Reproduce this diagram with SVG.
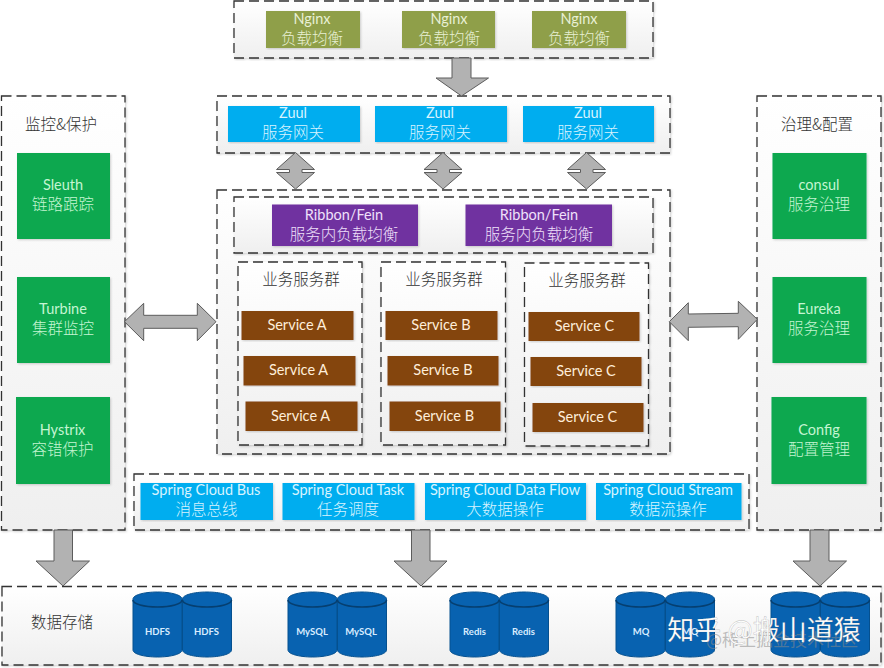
<svg xmlns="http://www.w3.org/2000/svg" width="884" height="668" viewBox="0 0 884 668">
<style>
text{text-anchor:middle;font-family:"Lato","Noto Sans CJK SC",sans-serif}
.lat{font-size:14.5px}
.cjk{font-size:15.5px;font-family:"Noto Sans CJK SC",sans-serif;font-weight:300}
.ttl{font-size:15.5px;font-family:"Noto Sans CJK SC",sans-serif;font-weight:300;fill:#333}
.con{fill:url(#pan);stroke:#333;stroke-width:1.3;stroke-dasharray:10 5;filter:url(#sh)}
.box{filter:url(#sh)}
.ng{fill:#8f9f4a}.ngt{fill:#e8f0d4}
.zu{fill:#00adef}.zut{fill:#d8f4ff}
.gr{fill:#0aa84f}.grt{fill:#c4f5d2}
.pu{fill:#7030a0}.put{fill:#efe0fa}
.br{fill:#84450f}.brt{fill:#ffeeda}
.db{font-size:9.500px;font-weight:700;fill:#d8ecff}
.arr{fill:#b2b2b2;stroke:#5c5c5c;stroke-width:1}
</style>
<defs>
<linearGradient id="pan" x1="0" y1="0" x2="0" y2="1"><stop offset="0" stop-color="#fff"/><stop offset="1" stop-color="#efefef"/></linearGradient>
<filter id="sh" x="-5%" y="-5%" width="110%" height="110%"><feDropShadow dx="1" dy="1" stdDeviation="1.2" flood-color="#000" flood-opacity=".18"/></filter>
<g id="cyl">
<path d="M0 7C0 3 11 0 24.500 0S49 3 49 7V58C49 62 38 65 24.500 65S0 62 0 58Z" fill="#0862b0" stroke="#05508f" stroke-width="1"/>
<path d="M0 8C0 12 11 15 24.500 15S49 12 49 8" fill="none" stroke="#063f70" stroke-width="1.600"/>
</g>
</defs>
<rect width="884" height="668" fill="#fff"/>

<g id="nginx-layer"><rect class="con" x="234" y="1" width="419" height="57"/></g>
<g id="nginx-1"><rect class="box ng" x="266" y="11" width="94" height="37"/><text class="lat ngt" x="312" y="24">Nginx</text><text class="cjk ngt" x="312" y="44">负载均衡</text></g>
<g id="nginx-2"><rect class="box ng" x="402" y="11" width="93" height="37"/><text class="lat ngt" x="449" y="24">Nginx</text><text class="cjk ngt" x="449" y="44">负载均衡</text></g>
<g id="nginx-3"><rect class="box ng" x="532" y="11" width="94" height="37"/><text class="lat ngt" x="579" y="24">Nginx</text><text class="cjk ngt" x="579" y="44">负载均衡</text></g>

<g id="zuul-layer"><rect class="con" x="217" y="96" width="453" height="57"/></g>
<g id="zuul-1"><rect class="box zu" x="228" y="106" width="132" height="36"/><text class="lat zut" x="293" y="118">Zuul</text><text class="cjk zut" x="293" y="138">服务网关</text></g>
<g id="zuul-2"><rect class="box zu" x="375" y="106" width="132" height="36"/><text class="lat zut" x="440" y="118">Zuul</text><text class="cjk zut" x="440" y="138">服务网关</text></g>
<g id="zuul-3"><rect class="box zu" x="523" y="106" width="131" height="36"/><text class="lat zut" x="588" y="118">Zuul</text><text class="cjk zut" x="588" y="138">服务网关</text></g>

<g id="monitor-panel"><rect class="con" x="1.500" y="96" width="123.500" height="434"/><text class="ttl" x="61" y="130">监控&amp;保护</text></g>
<g id="sleuth"><rect class="box gr" x="17" y="153" width="93" height="86"/><text class="lat grt" x="63" y="190">Sleuth</text><text class="cjk grt" x="63" y="210">链路跟踪</text></g>
<g id="turbine"><rect class="box gr" x="17" y="277" width="93" height="86"/><text class="lat grt" x="63" y="314">Turbine</text><text class="cjk grt" x="63" y="334">集群监控</text></g>
<g id="hystrix"><rect class="box gr" x="16" y="397" width="94" height="87"/><text class="lat grt" x="62.500" y="435">Hystrix</text><text class="cjk grt" x="62.500" y="455">容错保护</text></g>

<g id="config-panel"><rect class="con" x="757" y="96" width="124" height="434"/><text class="ttl" x="817" y="130">治理&amp;配置</text></g>
<g id="consul"><rect class="box gr" x="772.500" y="153" width="94" height="86"/><text class="lat grt" x="819" y="190">consul</text><text class="cjk grt" x="819" y="210">服务治理</text></g>
<g id="eureka"><rect class="box gr" x="772.500" y="277" width="94" height="86"/><text class="lat grt" x="819" y="314">Eureka</text><text class="cjk grt" x="819" y="334">服务治理</text></g>
<g id="config"><rect class="box gr" x="771.500" y="397" width="95" height="87"/><text class="lat grt" x="819" y="435">Config</text><text class="cjk grt" x="819" y="455">配置管理</text></g>

<g id="service-layer"><rect class="con" x="217" y="190" width="453" height="264"/></g>
<g id="ribbon-layer"><rect class="con" x="234" y="197" width="419" height="56"/></g>
<g id="ribbon-1"><rect class="box pu" x="272" y="204.500" width="146" height="41.500"/><text class="lat put" x="344" y="219.500">Ribbon/Fein</text><text class="cjk put" x="344" y="240">服务内负载均衡</text></g>
<g id="ribbon-2"><rect class="box pu" x="465.500" y="204.500" width="146.500" height="41.500"/><text class="lat put" x="539" y="219.500">Ribbon/Fein</text><text class="cjk put" x="539" y="240">服务内负载均衡</text></g>

<g id="group-a"><rect class="con" x="238" y="262" width="124" height="183"/><text class="ttl" x="301" y="285">业务服务群</text></g>
<g id="group-b"><rect class="con" x="381" y="262" width="124.500" height="183"/><text class="ttl" x="444" y="285">业务服务群</text></g>
<g id="group-c"><rect class="con" x="524.500" y="263" width="124" height="183"/><text class="ttl" x="587" y="286">业务服务群</text></g>

<g id="service-a1"><rect class="box br" x="241.500" y="311" width="112" height="29"/><text class="lat brt" x="297" y="330">Service A</text></g>
<g id="service-a2"><rect class="box br" x="243.500" y="356" width="112" height="29.500"/><text class="lat brt" x="298.500" y="375">Service A</text></g>
<g id="service-a3"><rect class="box br" x="245.500" y="401.500" width="112" height="29.500"/><text class="lat brt" x="300.500" y="420.500">Service A</text></g>
<g id="service-b1"><rect class="box br" x="385.500" y="311" width="112" height="29"/><text class="lat brt" x="441" y="330">Service B</text></g>
<g id="service-b2"><rect class="box br" x="387.500" y="356" width="111" height="29.500"/><text class="lat brt" x="443" y="375">Service B</text></g>
<g id="service-b3"><rect class="box br" x="389.500" y="401.500" width="111" height="29.500"/><text class="lat brt" x="444.500" y="420.500">Service B</text></g>
<g id="service-c1"><rect class="box br" x="528.500" y="312" width="111" height="29"/><text class="lat brt" x="584.500" y="331">Service C</text></g>
<g id="service-c2"><rect class="box br" x="530.500" y="357" width="111" height="29"/><text class="lat brt" x="586" y="376">Service C</text></g>
<g id="service-c3"><rect class="box br" x="532.500" y="403" width="111" height="29"/><text class="lat brt" x="587.500" y="421.500">Service C</text></g>

<g id="bus-layer"><rect class="con" x="134" y="474" width="615" height="56"/></g>
<g id="bus"><rect class="box zu" x="140.500" y="483" width="132.500" height="37"/><text class="lat zut" x="206" y="495">Spring Cloud Bus</text><text class="cjk zut" x="206.500" y="515">消息总线</text></g>
<g id="task"><rect class="box zu" x="282.500" y="483" width="132" height="37"/><text class="lat zut" x="348" y="495">Spring Cloud Task</text><text class="cjk zut" x="348" y="515">任务调度</text></g>
<g id="dataflow"><rect class="box zu" x="425" y="483" width="161" height="37"/><text class="lat zut" x="505" y="495">Spring Cloud Data Flow</text><text class="cjk zut" x="505" y="515">大数据操作</text></g>
<g id="stream"><rect class="box zu" x="596" y="483" width="145.500" height="37"/><text class="lat zut" x="668" y="495">Spring Cloud Stream</text><text class="cjk zut" x="668" y="515">数据流操作</text></g>

<g id="storage-layer"><rect class="con" x="2" y="586.500" width="879" height="78.500"/><text class="ttl" x="62" y="628">数据存储</text></g>
<g id="db-hdfs-1"><use href="#cyl" x="133" y="592"/><text class="db" x="157.500" y="634.500">HDFS</text></g>
<g id="db-hdfs-2"><use href="#cyl" x="182.500" y="592"/><text class="db" x="206.500" y="634.500">HDFS</text></g>
<g id="db-mysql-1"><use href="#cyl" x="288" y="592"/><text class="db" x="312" y="634.500">MySQL</text></g>
<g id="db-mysql-2"><use href="#cyl" x="337.500" y="592"/><text class="db" x="361" y="634.500">MySQL</text></g>
<g id="db-redis-1"><use href="#cyl" x="450" y="592"/><text class="db" x="474.500" y="634.500">Redis</text></g>
<g id="db-redis-2"><use href="#cyl" x="499.500" y="592"/><text class="db" x="523.500" y="634.500">Redis</text></g>
<g id="db-mq-1"><use href="#cyl" x="616" y="592"/><text class="db" x="641" y="634.500">MQ</text></g>
<g id="db-mq-2"><use href="#cyl" x="665.500" y="592"/><text class="db" x="690" y="634.500">MQ</text></g>
<g id="db-5"><use href="#cyl" x="771" y="592"/></g>
<g id="db-6"><use href="#cyl" x="820.500" y="592"/></g>

<g id="connectors">
<path class="arr" d="M452 58H471V78H488.500L461.500 96L436 78H452Z"/>
<path class="arr" d="M295.500 152.500L314.500 169.500H302V172.500H314.500L295.500 189L276.500 172.500H289.500V169.500H276.500Z"/>
<path class="arr" d="M443 152.500L462 169.500H449.500V172.500H462L443 189L424 172.500H437V169.500H424Z"/>
<path class="arr" d="M586.500 152.500L605.500 169.500H593V172.500H605.500L586.500 189L567.500 172.500H580.500V169.500H567.500Z"/>
<path class="arr" d="M124.500 321.700L143.700 303.300V315.300H197.300V303.300L216 321.700L197.300 340.700V328.300H143.700V340.700Z"/>
<path class="arr" d="M669.300 321.700L688.300 302.700V314L738.300 313.300V301.300L757.300 319.300L738.300 339.300V326.700L688.300 327.300V340.700Z"/>
<path class="arr" d="M54 530H72.500V561H89.500L63 586L36 561H54Z"/>
<path class="arr" d="M411.500 530H430V561H447L421 586L394 561H411.500Z"/>
<path class="arr" d="M810 530H829V561H846.500L820 586L793 561H810Z"/>
</g>

<g id="watermark">
<text x="782" y="646" style="font-family:'Noto Sans CJK SC',sans-serif;font-size:17px;fill:#8a8a8a;fill-opacity:.55">@稀土掘金技术社区</text>
<text x="764" y="640" style="font-family:'Noto Sans CJK SC',sans-serif;font-size:27px;fill:#fff;stroke:#333;stroke-opacity:.25;stroke-width:.6">知乎 @搬山道猿</text>
</g>
</svg>
